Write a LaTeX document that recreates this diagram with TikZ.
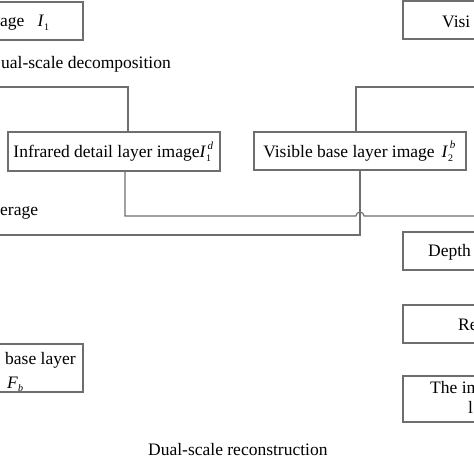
\documentclass[tikz,border=0pt]{standalone}
\usepackage{fontspec}
\setmainfont{Liberation Serif}
\definecolor{linegray}{RGB}{110,110,110}
% italic symbol with small index / exponent
\newcommand{\symsb}[2]{\textit{#1}\raisebox{-0.45ex}{\fontsize{10}{10}\selectfont #2}}
\newcommand{\symss}[3]{\textit{#1}\rlap{\raisebox{1.05ex}{\fontsize{11}{11}\selectfont\hspace{0.15em}\textit{#2}}}\raisebox{-0.5ex}{\fontsize{10}{10}\selectfont #3}\hspace{0.2em}}
\tikzset{
  blk/.style={draw=linegray, line width=1.1pt, inner sep=0pt, align=center},
  lbl/.style={inner sep=0pt, anchor=base west},
  wire/.style={draw=linegray, line width=1.1pt}
}
\begin{document}
\begin{tikzpicture}[x=1pt,y=-1pt,font=\fontsize{17.5}{21}\selectfont]
\useasboundingbox (0,0) rectangle (474,474);
\clip (0,0) rectangle (474,474);

% Source images (top row)
\node[blk, minimum width=203pt, minimum height=38pt] (irimg) at (-18.5,21) {};
\node[lbl] (irtxt) at (0,26.5) {age\hspace{0.75em}\symsb{I}{1}};
\node[blk, minimum width=157pt, minimum height=38pt] (visimg) at (481.5,20) {};
\node[lbl] (vistxt) at (442,27) {Visi};

% Decomposition
\node[lbl] (dectxt) at (1,68) {ual-scale decomposition};
\node[blk, minimum width=212pt, minimum height=39pt] (ird) at (114,151.5)
  {Infrared detail layer image\symss{I}{d}{1}};
\node[blk, minimum width=212pt, minimum height=38pt] (visb) at (360,151)
  {Visible base layer image\hspace{0.4em}\symss{I}{b}{2}};
\node[lbl] (avgtxt) at (0,215.5) {erage};

% Right column
\foreach \n/\yc/\h in {depth/251/38, refine/324/38, result/399/46}
  \node[blk, minimum width=157pt, minimum height=\h pt] (\n) at (481.5,\yc) {};
\node[lbl] (depthtxt) at (428,256.5) {Depth};
\node[lbl] (refinetxt) at (458,330) {Re};
\node[lbl] (resulttxt) at (430,393) {The im};
\node[lbl] (resulttxtb) at (468,413.5) {l};

% Fused base layer
\node[blk, minimum width=203pt, minimum height=48pt] (fb) at (-18.5,368) {};
\node[lbl] (fbtxt) at (5,364) {base layer};
\node[lbl] (fbsym) at (7,388) {\textit{F}\raisebox{-0.45ex}{\fontsize{10}{10}\selectfont\textit{b}}};

% Reconstruction
\node[lbl] (rectxt) at (148,455) {Dual-scale reconstruction};

% Connectors
\coordinate (inL) at (-5,87);
\coordinate (inR) at (480,87);
\coordinate (avgL) at (-5,235);
\coordinate (outR) at (480,216);
\draw[wire] (inL) -| (ird.north -| 128,0);
\draw[wire] (visb.north -| 356,0) |- (inR);
\draw[wire] (ird.south -| 125,0) |- (356,216)
  arc[start angle=180, end angle=360, radius=4] -- (outR);
\draw[wire] (avgL) -| (visb.south);

\end{tikzpicture}
\end{document}
